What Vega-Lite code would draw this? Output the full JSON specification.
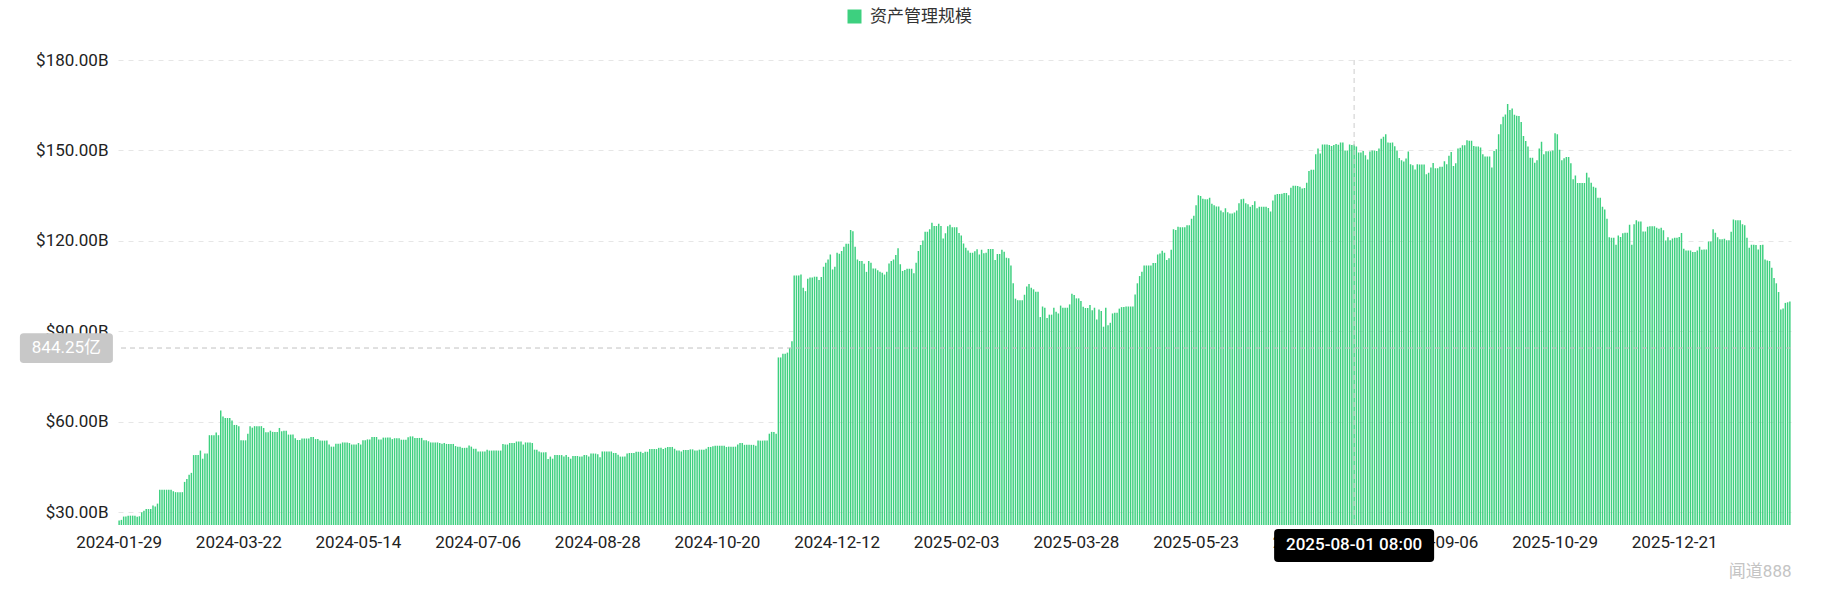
{
"$schema": "https://vega.github.io/schema/vega-lite/v6.json",
"width": 1673,
"height": 465,
"autosize": {"type": "none"},
"padding": {"left": 118, "top": 60, "right": 31, "bottom": 75},
"background": "#ffffff",
"config": {"view": {"stroke": null}, "font": "Roboto, 'Noto Sans CJK SC', sans-serif",
"axisX": {"labelAngle": 0, "ticks": false, "domain": false, "grid": false, "labelPadding": 9, "labelFontSize": 17, "labelColor": "#222222", "labelOverlap": false, "labelFont": "Roboto"},
"axisY": {"grid": true, "gridDash": [5, 5], "gridColor": "#e6e6e6", "gridWidth": 1, "domain": false, "ticks": false, "labelPadding": 10, "labelFontSize": 17, "labelColor": "#222222", "labelFont": "Roboto"}},
"title": {"text": "闻道888", "orient": "bottom", "anchor": "end", "fontSize": 17, "fontWeight": "normal", "color": "#c4c4c4", "offset": 2, "font": "Roboto, 'Noto Sans CJK SC', sans-serif"},
"layer": [
{
"data": {"values": [
{"d":"2024-01-29","v":27.2},{"d":"2024-01-30","v":27.4},{"d":"2024-01-31","v":28.5},
{"d":"2024-02-01","v":28.5},{"d":"2024-02-02","v":28.8},{"d":"2024-02-03","v":28.8},{"d":"2024-02-04","v":28.8},{"d":"2024-02-05","v":28.8},{"d":"2024-02-06","v":28.4},{"d":"2024-02-07","v":28.6},{"d":"2024-02-08","v":29.9},{"d":"2024-02-09","v":30.4},{"d":"2024-02-10","v":31},{"d":"2024-02-11","v":31},{"d":"2024-02-12","v":31},{"d":"2024-02-13","v":32.2},{"d":"2024-02-14","v":31.8},{"d":"2024-02-15","v":32.8},{"d":"2024-02-16","v":37.4},{"d":"2024-02-17","v":37.4},{"d":"2024-02-18","v":37.4},{"d":"2024-02-19","v":37.4},{"d":"2024-02-20","v":37.4},{"d":"2024-02-21","v":37.4},{"d":"2024-02-22","v":36.9},{"d":"2024-02-23","v":36.6},{"d":"2024-02-24","v":36.6},{"d":"2024-02-25","v":36.6},{"d":"2024-02-26","v":36.6},{"d":"2024-02-27","v":40},{"d":"2024-02-28","v":41},{"d":"2024-02-29","v":42.4},
{"d":"2024-03-01","v":43},{"d":"2024-03-02","v":48.9},{"d":"2024-03-03","v":48.9},{"d":"2024-03-04","v":48.9},{"d":"2024-03-05","v":50.4},{"d":"2024-03-06","v":47.7},{"d":"2024-03-07","v":49.4},{"d":"2024-03-08","v":49.4},{"d":"2024-03-09","v":55.5},{"d":"2024-03-10","v":55.5},{"d":"2024-03-11","v":55.5},{"d":"2024-03-12","v":56.4},{"d":"2024-03-13","v":55.5},{"d":"2024-03-14","v":63.7},{"d":"2024-03-15","v":61.7},{"d":"2024-03-16","v":61.2},{"d":"2024-03-17","v":61.2},{"d":"2024-03-18","v":61.2},{"d":"2024-03-19","v":60.4},{"d":"2024-03-20","v":58.9},{"d":"2024-03-21","v":58.9},{"d":"2024-03-22","v":58.5},{"d":"2024-03-23","v":53.8},{"d":"2024-03-24","v":53.8},{"d":"2024-03-25","v":53.8},{"d":"2024-03-26","v":56},{"d":"2024-03-27","v":58.5},{"d":"2024-03-28","v":58},{"d":"2024-03-29","v":58.5},{"d":"2024-03-30","v":58.5},{"d":"2024-03-31","v":58.5},
{"d":"2024-04-01","v":58.5},{"d":"2024-04-02","v":57.9},{"d":"2024-04-03","v":56.5},{"d":"2024-04-04","v":56.5},{"d":"2024-04-05","v":57},{"d":"2024-04-06","v":56.6},{"d":"2024-04-07","v":56.6},{"d":"2024-04-08","v":56.6},{"d":"2024-04-09","v":57.9},{"d":"2024-04-10","v":56.8},{"d":"2024-04-11","v":57},{"d":"2024-04-12","v":57},{"d":"2024-04-13","v":55.7},{"d":"2024-04-14","v":55.7},{"d":"2024-04-15","v":55.7},{"d":"2024-04-16","v":54.5},{"d":"2024-04-17","v":53.9},{"d":"2024-04-18","v":53.9},{"d":"2024-04-19","v":54.4},{"d":"2024-04-20","v":54.4},{"d":"2024-04-21","v":54.4},{"d":"2024-04-22","v":54.4},{"d":"2024-04-23","v":54.9},{"d":"2024-04-24","v":54.9},{"d":"2024-04-25","v":54.2},{"d":"2024-04-26","v":54.2},{"d":"2024-04-27","v":53.7},{"d":"2024-04-28","v":53.7},{"d":"2024-04-29","v":53.7},{"d":"2024-04-30","v":53.7},
{"d":"2024-05-01","v":52.4},{"d":"2024-05-02","v":51.7},{"d":"2024-05-03","v":51.7},{"d":"2024-05-04","v":52.7},{"d":"2024-05-05","v":52.7},{"d":"2024-05-06","v":52.7},{"d":"2024-05-07","v":53.1},{"d":"2024-05-08","v":53.1},{"d":"2024-05-09","v":53.1},{"d":"2024-05-10","v":52.9},{"d":"2024-05-11","v":52.4},{"d":"2024-05-12","v":52.4},{"d":"2024-05-13","v":52.4},{"d":"2024-05-14","v":52.9},{"d":"2024-05-15","v":52.4},{"d":"2024-05-16","v":53.8},{"d":"2024-05-17","v":53.8},{"d":"2024-05-18","v":54.1},{"d":"2024-05-19","v":54.1},{"d":"2024-05-20","v":54.9},{"d":"2024-05-21","v":54.9},{"d":"2024-05-22","v":54.9},{"d":"2024-05-23","v":54.1},{"d":"2024-05-24","v":54.1},{"d":"2024-05-25","v":54.7},{"d":"2024-05-26","v":54.7},{"d":"2024-05-27","v":54.7},{"d":"2024-05-28","v":54.7},{"d":"2024-05-29","v":54.2},{"d":"2024-05-30","v":54.5},{"d":"2024-05-31","v":54.5},
{"d":"2024-06-01","v":54.5},{"d":"2024-06-02","v":54},{"d":"2024-06-03","v":54},{"d":"2024-06-04","v":54},{"d":"2024-06-05","v":54.8},{"d":"2024-06-06","v":55.1},{"d":"2024-06-07","v":55.1},{"d":"2024-06-08","v":54.6},{"d":"2024-06-09","v":54.6},{"d":"2024-06-10","v":54.6},{"d":"2024-06-11","v":54.6},{"d":"2024-06-12","v":53.8},{"d":"2024-06-13","v":53.8},{"d":"2024-06-14","v":53.5},{"d":"2024-06-15","v":53.1},{"d":"2024-06-16","v":53.1},{"d":"2024-06-17","v":53.1},{"d":"2024-06-18","v":53.1},{"d":"2024-06-19","v":52.9},{"d":"2024-06-20","v":52.7},{"d":"2024-06-21","v":52.9},{"d":"2024-06-22","v":52.6},{"d":"2024-06-23","v":52.6},{"d":"2024-06-24","v":52.6},{"d":"2024-06-25","v":52.6},{"d":"2024-06-26","v":51.9},{"d":"2024-06-27","v":51.7},{"d":"2024-06-28","v":51.7},{"d":"2024-06-29","v":51.3},{"d":"2024-06-30","v":51.3},
{"d":"2024-07-01","v":51.3},{"d":"2024-07-02","v":52.1},{"d":"2024-07-03","v":51.7},{"d":"2024-07-04","v":51},{"d":"2024-07-05","v":51},{"d":"2024-07-06","v":50.1},{"d":"2024-07-07","v":50.1},{"d":"2024-07-08","v":50.1},{"d":"2024-07-09","v":50.1},{"d":"2024-07-10","v":50.7},{"d":"2024-07-11","v":50.4},{"d":"2024-07-12","v":50.4},{"d":"2024-07-13","v":50.4},{"d":"2024-07-14","v":50.4},{"d":"2024-07-15","v":50.4},{"d":"2024-07-16","v":50.4},{"d":"2024-07-17","v":52.6},{"d":"2024-07-18","v":52.4},{"d":"2024-07-19","v":52.4},{"d":"2024-07-20","v":52.9},{"d":"2024-07-21","v":52.9},{"d":"2024-07-22","v":52.9},{"d":"2024-07-23","v":53.4},{"d":"2024-07-24","v":53.4},{"d":"2024-07-25","v":53.4},{"d":"2024-07-26","v":52.4},{"d":"2024-07-27","v":53.1},{"d":"2024-07-28","v":53.1},{"d":"2024-07-29","v":53.1},{"d":"2024-07-30","v":52.9},{"d":"2024-07-31","v":50.7},
{"d":"2024-08-01","v":50.7},{"d":"2024-08-02","v":50.1},{"d":"2024-08-03","v":49.8},{"d":"2024-08-04","v":49.8},{"d":"2024-08-05","v":49.8},{"d":"2024-08-06","v":47.6},{"d":"2024-08-07","v":48.4},{"d":"2024-08-08","v":47.7},{"d":"2024-08-09","v":48.9},{"d":"2024-08-10","v":48.9},{"d":"2024-08-11","v":48.9},{"d":"2024-08-12","v":48.9},{"d":"2024-08-13","v":48.4},{"d":"2024-08-14","v":48.9},{"d":"2024-08-15","v":48.3},{"d":"2024-08-16","v":47.7},{"d":"2024-08-17","v":48.6},{"d":"2024-08-18","v":48.6},{"d":"2024-08-19","v":48.6},{"d":"2024-08-20","v":48.4},{"d":"2024-08-21","v":48.4},{"d":"2024-08-22","v":48.9},{"d":"2024-08-23","v":48.9},{"d":"2024-08-24","v":48.4},{"d":"2024-08-25","v":49.4},{"d":"2024-08-26","v":49.4},{"d":"2024-08-27","v":49.4},{"d":"2024-08-28","v":49.2},{"d":"2024-08-29","v":48.2},{"d":"2024-08-30","v":50.1},{"d":"2024-08-31","v":50.1},
{"d":"2024-09-01","v":50.1},{"d":"2024-09-02","v":50.1},{"d":"2024-09-03","v":50.1},{"d":"2024-09-04","v":49.6},{"d":"2024-09-05","v":49.6},{"d":"2024-09-06","v":49},{"d":"2024-09-07","v":48.4},{"d":"2024-09-08","v":48.4},{"d":"2024-09-09","v":48.4},{"d":"2024-09-10","v":49.4},{"d":"2024-09-11","v":49.6},{"d":"2024-09-12","v":49.6},{"d":"2024-09-13","v":49.6},{"d":"2024-09-14","v":50},{"d":"2024-09-15","v":50},{"d":"2024-09-16","v":50},{"d":"2024-09-17","v":49.6},{"d":"2024-09-18","v":50},{"d":"2024-09-19","v":50},{"d":"2024-09-20","v":50.9},{"d":"2024-09-21","v":50.9},{"d":"2024-09-22","v":50.9},{"d":"2024-09-23","v":50.9},{"d":"2024-09-24","v":51.3},{"d":"2024-09-25","v":51.3},{"d":"2024-09-26","v":50.9},{"d":"2024-09-27","v":51.3},{"d":"2024-09-28","v":51.6},{"d":"2024-09-29","v":51.6},{"d":"2024-09-30","v":51.6},
{"d":"2024-10-01","v":51},{"d":"2024-10-02","v":50.4},{"d":"2024-10-03","v":50.4},{"d":"2024-10-04","v":50.1},{"d":"2024-10-05","v":50.6},{"d":"2024-10-06","v":50.6},{"d":"2024-10-07","v":50.6},{"d":"2024-10-08","v":50.8},{"d":"2024-10-09","v":50.8},{"d":"2024-10-10","v":50.4},{"d":"2024-10-11","v":50.4},{"d":"2024-10-12","v":50.7},{"d":"2024-10-13","v":50.7},{"d":"2024-10-14","v":50.7},{"d":"2024-10-15","v":51},{"d":"2024-10-16","v":51.6},{"d":"2024-10-17","v":51.6},{"d":"2024-10-18","v":51.8},{"d":"2024-10-19","v":52},{"d":"2024-10-20","v":52},{"d":"2024-10-21","v":52},{"d":"2024-10-22","v":52},{"d":"2024-10-23","v":52},{"d":"2024-10-24","v":51.6},{"d":"2024-10-25","v":51.7},{"d":"2024-10-26","v":51.7},{"d":"2024-10-27","v":51.7},{"d":"2024-10-28","v":51.7},{"d":"2024-10-29","v":52.4},{"d":"2024-10-30","v":52.9},{"d":"2024-10-31","v":52.9},
{"d":"2024-11-01","v":52.3},{"d":"2024-11-02","v":52.3},{"d":"2024-11-03","v":52.3},{"d":"2024-11-04","v":52.3},{"d":"2024-11-05","v":52.3},{"d":"2024-11-06","v":52},{"d":"2024-11-07","v":53.7},{"d":"2024-11-08","v":53.7},{"d":"2024-11-09","v":53.7},{"d":"2024-11-10","v":53.7},{"d":"2024-11-11","v":53.7},{"d":"2024-11-12","v":56},{"d":"2024-11-13","v":56.6},{"d":"2024-11-14","v":56.6},{"d":"2024-11-15","v":56},{"d":"2024-11-16","v":81.3},{"d":"2024-11-17","v":81.3},{"d":"2024-11-18","v":82.5},{"d":"2024-11-19","v":82.5},{"d":"2024-11-20","v":82.9},{"d":"2024-11-21","v":84.5},{"d":"2024-11-22","v":86.7},{"d":"2024-11-23","v":108.5},{"d":"2024-11-24","v":108.5},{"d":"2024-11-25","v":108.5},{"d":"2024-11-26","v":108.8},{"d":"2024-11-27","v":104.4},{"d":"2024-11-28","v":103.3},{"d":"2024-11-29","v":107.4},{"d":"2024-11-30","v":107.8},
{"d":"2024-12-01","v":107.8},{"d":"2024-12-02","v":108.1},{"d":"2024-12-03","v":108.1},{"d":"2024-12-04","v":107},{"d":"2024-12-05","v":108},{"d":"2024-12-06","v":111.4},{"d":"2024-12-07","v":112.7},{"d":"2024-12-08","v":113.8},{"d":"2024-12-09","v":115.5},{"d":"2024-12-10","v":110.5},{"d":"2024-12-11","v":111.4},{"d":"2024-12-12","v":116},{"d":"2024-12-13","v":115.7},{"d":"2024-12-14","v":116.6},{"d":"2024-12-15","v":118},{"d":"2024-12-16","v":119},{"d":"2024-12-17","v":119},{"d":"2024-12-18","v":123.6},{"d":"2024-12-19","v":123.2},{"d":"2024-12-20","v":118},{"d":"2024-12-21","v":113.8},{"d":"2024-12-22","v":113.3},{"d":"2024-12-23","v":113.3},{"d":"2024-12-24","v":112.4},{"d":"2024-12-25","v":109.7},{"d":"2024-12-26","v":113.3},{"d":"2024-12-27","v":112.7},{"d":"2024-12-28","v":110.8},{"d":"2024-12-29","v":110.8},{"d":"2024-12-30","v":110.2},{"d":"2024-12-31","v":109.7},
{"d":"2025-01-01","v":109.4},{"d":"2025-01-02","v":108.8},{"d":"2025-01-03","v":109.7},{"d":"2025-01-04","v":112.5},{"d":"2025-01-05","v":113.3},{"d":"2025-01-06","v":113.8},{"d":"2025-01-07","v":115.3},{"d":"2025-01-08","v":117.5},{"d":"2025-01-09","v":112.2},{"d":"2025-01-10","v":110},{"d":"2025-01-11","v":110.3},{"d":"2025-01-12","v":110.7},{"d":"2025-01-13","v":110.7},{"d":"2025-01-14","v":110.7},{"d":"2025-01-15","v":109.2},{"d":"2025-01-16","v":112.7},{"d":"2025-01-17","v":116.6},{"d":"2025-01-18","v":118.6},{"d":"2025-01-19","v":120.1},{"d":"2025-01-20","v":123},{"d":"2025-01-21","v":123},{"d":"2025-01-22","v":123.8},{"d":"2025-01-23","v":126},{"d":"2025-01-24","v":124.9},{"d":"2025-01-25","v":124.9},{"d":"2025-01-26","v":125.7},{"d":"2025-01-27","v":124.9},{"d":"2025-01-28","v":120.8},{"d":"2025-01-29","v":122.5},{"d":"2025-01-30","v":124.8},{"d":"2025-01-31","v":125.3},
{"d":"2025-02-01","v":124.5},{"d":"2025-02-02","v":124.5},{"d":"2025-02-03","v":124.5},{"d":"2025-02-04","v":122.6},{"d":"2025-02-05","v":121.8},{"d":"2025-02-06","v":119.1},{"d":"2025-02-07","v":117.7},{"d":"2025-02-08","v":116.8},{"d":"2025-02-09","v":116},{"d":"2025-02-10","v":116},{"d":"2025-02-11","v":116.5},{"d":"2025-02-12","v":117.2},{"d":"2025-02-13","v":115.5},{"d":"2025-02-14","v":117},{"d":"2025-02-15","v":115.9},{"d":"2025-02-16","v":116},{"d":"2025-02-17","v":117.3},{"d":"2025-02-18","v":117.3},{"d":"2025-02-19","v":117.3},{"d":"2025-02-20","v":113.6},{"d":"2025-02-21","v":115.6},{"d":"2025-02-22","v":115.6},{"d":"2025-02-23","v":117},{"d":"2025-02-24","v":116.4},{"d":"2025-02-25","v":114.4},{"d":"2025-02-26","v":114.2},{"d":"2025-02-27","v":111.8},{"d":"2025-02-28","v":105.9},
{"d":"2025-03-01","v":100.8},{"d":"2025-03-02","v":100.3},{"d":"2025-03-03","v":100.3},{"d":"2025-03-04","v":100.3},{"d":"2025-03-05","v":102.1},{"d":"2025-03-06","v":104.8},{"d":"2025-03-07","v":105.7},{"d":"2025-03-08","v":104.4},{"d":"2025-03-09","v":103.9},{"d":"2025-03-10","v":103.1},{"d":"2025-03-11","v":103.1},{"d":"2025-03-12","v":94.7},{"d":"2025-03-13","v":98.2},{"d":"2025-03-14","v":97.8},{"d":"2025-03-15","v":94.4},{"d":"2025-03-16","v":95.5},{"d":"2025-03-17","v":95.5},{"d":"2025-03-18","v":97.8},{"d":"2025-03-19","v":96.5},{"d":"2025-03-20","v":95.9},{"d":"2025-03-21","v":98.5},{"d":"2025-03-22","v":97.8},{"d":"2025-03-23","v":97.8},{"d":"2025-03-24","v":97.8},{"d":"2025-03-25","v":98.9},{"d":"2025-03-26","v":102.4},{"d":"2025-03-27","v":102},{"d":"2025-03-28","v":100.9},{"d":"2025-03-29","v":100.9},{"d":"2025-03-30","v":100},{"d":"2025-03-31","v":98.1},
{"d":"2025-04-01","v":97.7},{"d":"2025-04-02","v":97.7},{"d":"2025-04-03","v":98.7},{"d":"2025-04-04","v":97},{"d":"2025-04-05","v":97.8},{"d":"2025-04-06","v":93.9},{"d":"2025-04-07","v":97.2},{"d":"2025-04-08","v":96.7},{"d":"2025-04-09","v":91.5},{"d":"2025-04-10","v":97.8},{"d":"2025-04-11","v":92},{"d":"2025-04-12","v":92.8},{"d":"2025-04-13","v":95.9},{"d":"2025-04-14","v":96.1},{"d":"2025-04-15","v":96.1},{"d":"2025-04-16","v":97.5},{"d":"2025-04-17","v":98},{"d":"2025-04-21","v":98},{"d":"2025-04-22","v":98.2},{"d":"2025-04-23","v":98.2},{"d":"2025-04-24","v":98.2},{"d":"2025-04-25","v":98.2},{"d":"2025-04-26","v":102.2},{"d":"2025-04-27","v":105.9},{"d":"2025-04-28","v":108.3},{"d":"2025-04-29","v":109.7},{"d":"2025-04-30","v":111.8},
{"d":"2025-05-01","v":111.8},{"d":"2025-05-02","v":111.8},{"d":"2025-05-03","v":111.8},{"d":"2025-05-04","v":112.6},{"d":"2025-05-05","v":112.6},{"d":"2025-05-06","v":115.5},{"d":"2025-05-07","v":115.8},{"d":"2025-05-08","v":116.7},{"d":"2025-05-09","v":116},{"d":"2025-05-10","v":113.6},{"d":"2025-05-11","v":114.2},{"d":"2025-05-12","v":117},{"d":"2025-05-13","v":123.8},{"d":"2025-05-14","v":123.6},{"d":"2025-05-15","v":124.7},{"d":"2025-05-16","v":124.5},{"d":"2025-05-17","v":124.5},{"d":"2025-05-18","v":124.5},{"d":"2025-05-19","v":125.2},{"d":"2025-05-20","v":125.2},{"d":"2025-05-21","v":127.3},{"d":"2025-05-22","v":128.3},{"d":"2025-05-23","v":131.8},{"d":"2025-05-24","v":135.1},{"d":"2025-05-25","v":134.9},{"d":"2025-05-26","v":134},{"d":"2025-05-27","v":133.8},{"d":"2025-05-28","v":133.8},{"d":"2025-05-29","v":134.3},{"d":"2025-05-30","v":132.3},{"d":"2025-05-31","v":131.8},
{"d":"2025-06-01","v":131.4},{"d":"2025-06-02","v":131.4},{"d":"2025-06-03","v":130.1},{"d":"2025-06-04","v":129.5},{"d":"2025-06-05","v":130.8},{"d":"2025-06-06","v":129.5},{"d":"2025-06-07","v":129.1},{"d":"2025-06-08","v":129.1},{"d":"2025-06-09","v":129.4},{"d":"2025-06-10","v":130.1},{"d":"2025-06-11","v":132.5},{"d":"2025-06-12","v":133.8},{"d":"2025-06-13","v":134},{"d":"2025-06-14","v":132.5},{"d":"2025-06-15","v":132.1},{"d":"2025-06-16","v":131.3},{"d":"2025-06-17","v":131.9},{"d":"2025-06-18","v":133.1},{"d":"2025-06-19","v":130.8},{"d":"2025-06-20","v":131.3},{"d":"2025-06-21","v":131.3},{"d":"2025-06-22","v":131.3},{"d":"2025-06-23","v":131.3},{"d":"2025-06-24","v":130.9},{"d":"2025-06-25","v":129.7},{"d":"2025-06-26","v":133.4},{"d":"2025-06-27","v":135.3},{"d":"2025-06-28","v":135.5},{"d":"2025-06-29","v":135.5},{"d":"2025-06-30","v":135.6},
{"d":"2025-07-01","v":135.9},{"d":"2025-07-02","v":135.9},{"d":"2025-07-03","v":135.1},{"d":"2025-07-04","v":137.6},{"d":"2025-07-05","v":138.3},{"d":"2025-07-06","v":138.3},{"d":"2025-07-07","v":138.2},{"d":"2025-07-08","v":137.9},{"d":"2025-07-09","v":137.4},{"d":"2025-07-10","v":137.5},{"d":"2025-07-11","v":139.3},{"d":"2025-07-12","v":143.2},{"d":"2025-07-13","v":143.6},{"d":"2025-07-14","v":143.6},{"d":"2025-07-15","v":148.7},{"d":"2025-07-16","v":150.6},{"d":"2025-07-17","v":149},{"d":"2025-07-18","v":152},{"d":"2025-07-19","v":152},{"d":"2025-07-20","v":152},{"d":"2025-07-21","v":151.8},{"d":"2025-07-22","v":151.5},{"d":"2025-07-23","v":151.8},{"d":"2025-07-24","v":152.1},{"d":"2025-07-25","v":151.9},{"d":"2025-07-26","v":152.6},{"d":"2025-07-27","v":152.6},{"d":"2025-07-28","v":150},{"d":"2025-07-29","v":150},{"d":"2025-07-30","v":152},{"d":"2025-07-31","v":151.8},
{"d":"2025-08-01","v":152},{"d":"2025-08-02","v":151.3},{"d":"2025-08-03","v":149.3},{"d":"2025-08-04","v":149.3},{"d":"2025-08-05","v":149.8},{"d":"2025-08-06","v":148.4},{"d":"2025-08-07","v":147},{"d":"2025-08-08","v":149.6},{"d":"2025-08-09","v":150},{"d":"2025-08-10","v":150},{"d":"2025-08-11","v":149.8},{"d":"2025-08-12","v":150.6},{"d":"2025-08-13","v":153.9},{"d":"2025-08-14","v":154.5},{"d":"2025-08-15","v":155.4},{"d":"2025-08-16","v":152.6},{"d":"2025-08-17","v":152.5},{"d":"2025-08-18","v":152.6},{"d":"2025-08-19","v":151.4},{"d":"2025-08-20","v":150},{"d":"2025-08-21","v":147.5},{"d":"2025-08-22","v":146.7},{"d":"2025-08-23","v":146.3},{"d":"2025-08-24","v":147.3},{"d":"2025-08-25","v":149.6},{"d":"2025-08-26","v":145.4},{"d":"2025-08-27","v":145.1},{"d":"2025-08-28","v":143.7},{"d":"2025-08-29","v":145.4},{"d":"2025-08-30","v":145.3},{"d":"2025-08-31","v":145.3},
{"d":"2025-09-01","v":145.3},{"d":"2025-09-02","v":142.1},{"d":"2025-09-03","v":142.6},{"d":"2025-09-04","v":144.3},{"d":"2025-09-05","v":145.8},{"d":"2025-09-06","v":144.1},{"d":"2025-09-07","v":144.1},{"d":"2025-09-08","v":144.6},{"d":"2025-09-09","v":144.6},{"d":"2025-09-10","v":146.4},{"d":"2025-09-11","v":145.4},{"d":"2025-09-12","v":148.2},{"d":"2025-09-13","v":149.5},{"d":"2025-09-14","v":144.8},{"d":"2025-09-15","v":145.7},{"d":"2025-09-16","v":150.6},{"d":"2025-09-17","v":150.9},{"d":"2025-09-18","v":151.7},{"d":"2025-09-19","v":151.7},{"d":"2025-09-20","v":153.4},{"d":"2025-09-21","v":153.2},{"d":"2025-09-22","v":153.2},{"d":"2025-09-23","v":151.5},{"d":"2025-09-24","v":151.3},{"d":"2025-09-25","v":151.3},{"d":"2025-09-26","v":151},{"d":"2025-09-27","v":148.7},{"d":"2025-09-28","v":148},{"d":"2025-09-29","v":148},{"d":"2025-09-30","v":148},
{"d":"2025-10-01","v":144.3},{"d":"2025-10-02","v":149.8},{"d":"2025-10-03","v":150.4},{"d":"2025-10-04","v":155.4},{"d":"2025-10-05","v":158.7},{"d":"2025-10-06","v":161.2},{"d":"2025-10-07","v":161.9},{"d":"2025-10-08","v":165.4},{"d":"2025-10-09","v":163.4},{"d":"2025-10-10","v":163.9},{"d":"2025-10-11","v":161.8},{"d":"2025-10-12","v":161.5},{"d":"2025-10-13","v":161.4},{"d":"2025-10-14","v":159.4},{"d":"2025-10-15","v":154.8},{"d":"2025-10-16","v":153.1},{"d":"2025-10-17","v":151.3},{"d":"2025-10-18","v":147.6},{"d":"2025-10-19","v":147.6},{"d":"2025-10-20","v":145.9},{"d":"2025-10-21","v":146.7},{"d":"2025-10-22","v":150.6},{"d":"2025-10-23","v":152.9},{"d":"2025-10-24","v":148.7},{"d":"2025-10-25","v":149.7},{"d":"2025-10-26","v":149.7},{"d":"2025-10-27","v":149.7},{"d":"2025-10-28","v":150},{"d":"2025-10-29","v":155.7},{"d":"2025-10-30","v":155.4},{"d":"2025-10-31","v":150.2},
{"d":"2025-11-01","v":146.7},{"d":"2025-11-02","v":147.4},{"d":"2025-11-03","v":147.8},{"d":"2025-11-04","v":147.8},{"d":"2025-11-05","v":145.7},{"d":"2025-11-06","v":140.4},{"d":"2025-11-07","v":141.7},{"d":"2025-11-08","v":139.2},{"d":"2025-11-09","v":139.2},{"d":"2025-11-10","v":139.2},{"d":"2025-11-11","v":139.2},{"d":"2025-11-12","v":142.6},{"d":"2025-11-13","v":141},{"d":"2025-11-14","v":139.3},{"d":"2025-11-15","v":137.9},{"d":"2025-11-16","v":137.6},{"d":"2025-11-17","v":134.3},{"d":"2025-11-18","v":134.3},{"d":"2025-11-19","v":131.3},{"d":"2025-11-20","v":130.4},{"d":"2025-11-21","v":127.3},{"d":"2025-11-22","v":121.2},{"d":"2025-11-23","v":121},{"d":"2025-11-24","v":121},{"d":"2025-11-25","v":118.7},{"d":"2025-11-26","v":121.8},{"d":"2025-11-27","v":121.3},{"d":"2025-11-28","v":122.5},{"d":"2025-11-29","v":122.7},{"d":"2025-11-30","v":122.7},
{"d":"2025-12-01","v":125.3},{"d":"2025-12-02","v":118.7},{"d":"2025-12-03","v":125.5},{"d":"2025-12-04","v":126.8},{"d":"2025-12-05","v":126.4},{"d":"2025-12-06","v":126.4},{"d":"2025-12-07","v":123.1},{"d":"2025-12-08","v":123.1},{"d":"2025-12-09","v":124.7},{"d":"2025-12-10","v":124.8},{"d":"2025-12-11","v":124.8},{"d":"2025-12-12","v":124.8},{"d":"2025-12-13","v":124.3},{"d":"2025-12-14","v":124},{"d":"2025-12-15","v":124.3},{"d":"2025-12-16","v":123.5},{"d":"2025-12-17","v":120.1},{"d":"2025-12-18","v":121.2},{"d":"2025-12-19","v":120.2},{"d":"2025-12-20","v":120.8},{"d":"2025-12-21","v":121},{"d":"2025-12-22","v":121},{"d":"2025-12-23","v":121.3},{"d":"2025-12-24","v":122.6},{"d":"2025-12-25","v":117.4},{"d":"2025-12-26","v":116.8},{"d":"2025-12-27","v":116.8},{"d":"2025-12-28","v":116.8},{"d":"2025-12-29","v":116.3},{"d":"2025-12-30","v":116.3},{"d":"2025-12-31","v":116.8},
{"d":"2026-01-01","v":118},{"d":"2026-01-02","v":117},{"d":"2026-01-03","v":117.1},{"d":"2026-01-04","v":117.1},{"d":"2026-01-05","v":119.8},{"d":"2026-01-06","v":119.8},{"d":"2026-01-07","v":123.8},{"d":"2026-01-08","v":122.7},{"d":"2026-01-09","v":121.2},{"d":"2026-01-10","v":120.5},{"d":"2026-01-11","v":120.5},{"d":"2026-01-12","v":120.7},{"d":"2026-01-13","v":120.2},{"d":"2026-01-14","v":120.2},{"d":"2026-01-15","v":123},{"d":"2026-01-16","v":127.1},{"d":"2026-01-17","v":126.8},{"d":"2026-01-18","v":126.8},{"d":"2026-01-19","v":126.8},{"d":"2026-01-20","v":125.5},{"d":"2026-01-21","v":125.2},{"d":"2026-01-22","v":121},{"d":"2026-01-23","v":117.7},{"d":"2026-01-24","v":118.7},{"d":"2026-01-25","v":118.7},{"d":"2026-01-26","v":118.6},{"d":"2026-01-27","v":117.1},{"d":"2026-01-28","v":118.6},{"d":"2026-01-29","v":118.7},{"d":"2026-01-30","v":113.8},{"d":"2026-01-31","v":113.5},
{"d":"2026-02-01","v":113.3},{"d":"2026-02-02","v":111.1},{"d":"2026-02-03","v":107.7},{"d":"2026-02-04","v":105.9},{"d":"2026-02-05","v":103},{"d":"2026-02-06","v":97.2},{"d":"2026-02-07","v":97.5},{"d":"2026-02-08","v":99.4},{"d":"2026-02-09","v":99.6},{"d":"2026-02-10","v":99.9}
]},
"mark": {"type": "bar"},
"encoding": {
"x": {"field": "d", "type": "ordinal", "title": null, "scale": {"paddingInner": 0.35, "paddingOuter": 0.175},
"axis": {"title": null, "values": ["2024-01-29","2024-03-22","2024-05-14","2024-07-06","2024-08-28","2024-10-20","2024-12-12","2025-02-03","2025-03-28","2025-05-23","2025-07-15","2025-09-06","2025-10-29","2025-12-21"]}},
"y": {"field": "v", "type": "quantitative", "title": null, "scale": {"domain": [25.7, 180], "nice": false, "zero": false},
"axis": {"title": null, "values": [30, 60, 90, 120, 150, 180], "labelExpr": "'$' + format(datum.value, '.2f') + 'B'"}},
"y2": {"datum": 25.7},
"color": {"datum": "资产管理规模", "type": "nominal", "scale": {"range": ["#3dd07f"]},
"legend": {"orient": "none", "legendX": 728, "legendY": -52, "title": null, "symbolType": "square", "symbolSize": 196, "symbolStrokeWidth": 0, "symbolOpacity": 1, "labelFontSize": 17, "labelColor": "#333333", "labelFont": "Noto Sans CJK SC", "labelOffset": 7}}
}
},
{
"data": {"values": [{"v": 84.425, "t": "844.25亿"}]},
"layer": [
{"mark": {"type": "rule", "color": "#c2c2c2", "strokeDash": [5, 4], "strokeWidth": 1}, "encoding": {"y": {"field": "v", "type": "quantitative", "title": null}}},
{"mark": {"type": "point", "shape": "M-0.92,-0.32L0.92,-0.32Q1,-0.32 1,-0.24L1,0.24Q1,0.32 0.92,0.32L-0.92,0.32Q-1,0.32 -1,0.24L-1,-0.24Q-1,-0.32 -0.92,-0.32Z", "filled": true, "fill": "#c8c8c8", "opacity": 1, "strokeWidth": 0, "size": 8649},
 "encoding": {"x": {"datum": "2024-01-29", "type": "ordinal", "title": null}, "xOffset": {"value": -52}, "y": {"field": "v", "type": "quantitative", "title": null}}},
{"mark": {"type": "text", "color": "#ffffff", "fontSize": 17, "align": "center", "baseline": "middle", "font": "Roboto, 'Noto Sans CJK SC', sans-serif"},
 "encoding": {"x": {"datum": "2024-01-29", "type": "ordinal", "title": null}, "xOffset": {"value": -52}, "y": {"field": "v", "type": "quantitative", "title": null}, "text": {"field": "t"}}}
]
},
{
"data": {"values": [{"d": "2025-08-01", "t": "2025-08-01 08:00"}]},
"layer": [
{"mark": {"type": "rule", "color": "#cccccc", "strokeDash": [5, 4], "strokeWidth": 1}, "encoding": {"x": {"field": "d", "type": "ordinal", "title": null}}},
{"mark": {"type": "point", "shape": "M-0.95,-0.206L0.95,-0.206Q1,-0.206 1,-0.156L1,0.156Q1,0.206 0.95,0.206L-0.95,0.206Q-1,0.206 -1,0.156L-1,-0.156Q-1,-0.206 -0.95,-0.206Z", "filled": true, "fill": "#000000", "opacity": 1, "strokeWidth": 0, "size": 25600},
 "encoding": {"x": {"field": "d", "type": "ordinal", "title": null}, "y": {"datum": 18.9, "type": "quantitative", "title": null}}},
{"mark": {"type": "text", "color": "#ffffff", "fontSize": 17, "fontWeight": 500, "align": "center", "baseline": "middle", "font": "Roboto"},
 "encoding": {"x": {"field": "d", "type": "ordinal", "title": null}, "y": {"datum": 18.9, "type": "quantitative", "title": null}, "text": {"field": "t"}}}
]
}
]
}
